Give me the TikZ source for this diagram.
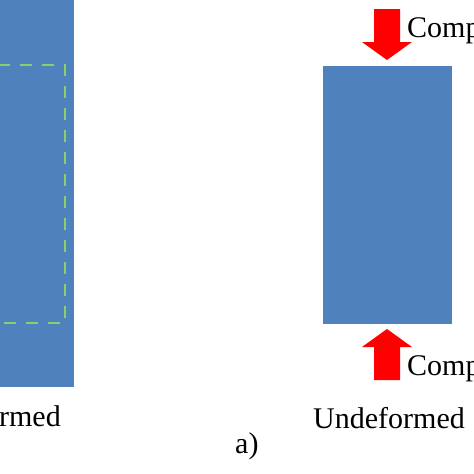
\documentclass[tikz,border=0pt]{standalone}
\usepackage{fontspec}
\setmainfont{Liberation Serif}
\definecolor{blockblue}{RGB}{79,129,189}
\definecolor{loadred}{RGB}{255,0,0}
\definecolor{frameg}{RGB}{140,205,110}
\tikzset{
  block/.style={fill=blockblue},
  load/.style={fill=loadred},
  label/.style={inner sep=0pt, font=\fontsize{30}{36}\selectfont}
}
\begin{document}
\begin{tikzpicture}[x=1pt,y=-1pt]
\useasboundingbox (0,0) rectangle (474,474);
% deformed sample (cut by the left edge)
\fill[block] (-90,-10) rectangle (74,387);
\draw[frameg, line width=2pt, dash pattern=on 12pt off 10pt] (-90,65) -- (65,65) -- (65,323) -- (-90,323);
\node[label, anchor=base east] (deflab) at (61,426) {Deformed};
% undeformed sample
\fill[block] (323,66) rectangle (452,324);
\fill[load] (374,9) -- (400,9) -- (400,42) -- (412,42) -- (387,60) -- (362,42) -- (374,42) -- cycle;
\fill[load] (387,329) -- (412,347) -- (400,347) -- (400,380) -- (374,380) -- (374,347) -- (362,347) -- cycle;
\node[label, anchor=base west] (toplab) at (407,37) {Compression};
\node[label, anchor=base west] (botlab) at (407,375) {Compression};
\node[label, anchor=base west] (undeflab) at (313,428) {Undeformed};
\node[label, anchor=base west] (sublab) at (235,453) {a)};
\end{tikzpicture}
\end{document}
